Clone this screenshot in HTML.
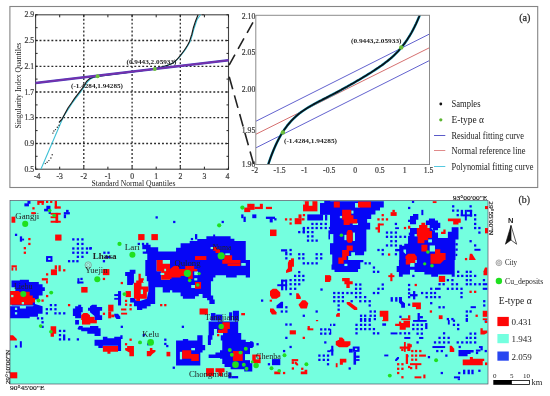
<!DOCTYPE html>
<html><head><meta charset="utf-8"><title>Figure</title>
<style>html,body{margin:0;padding:0;background:#fff;}svg{display:block;}text{font-family:"Liberation Serif", serif;fill:#222;}.t{font-size:7.7px;fill:#3a3a3a;stroke:#3a3a3a;stroke-width:0.2px}.b{font-weight:bold}.s{font-family:"Liberation Sans", sans-serif}</style></head><body>
<svg width="550" height="396" viewBox="0 0 550 396">
<rect width="550" height="396" fill="#fff"/>
<rect x="9.9" y="6.5" width="527.8" height="181" fill="#fff" stroke="#858585" stroke-width="1.1"/>
<g id="leftplot">
<line x1="83.8" y1="14.8" x2="83.8" y2="169.2" stroke="#2a2a2a" stroke-width="1.3" stroke-dasharray="1.9 2.05"/>
<line x1="132.1" y1="14.8" x2="132.1" y2="169.2" stroke="#2a2a2a" stroke-width="1.3" stroke-dasharray="1.9 2.05"/>
<line x1="180.3" y1="14.8" x2="180.3" y2="169.2" stroke="#2a2a2a" stroke-width="1.3" stroke-dasharray="1.9 2.05"/>
<line x1="35.6" y1="143.5" x2="228.5" y2="143.5" stroke="#2a2a2a" stroke-width="1.3" stroke-dasharray="1.9 2.05"/>
<line x1="35.6" y1="117.7" x2="228.5" y2="117.7" stroke="#2a2a2a" stroke-width="1.3" stroke-dasharray="1.9 2.05"/>
<line x1="35.6" y1="92.0" x2="228.5" y2="92.0" stroke="#2a2a2a" stroke-width="1.3" stroke-dasharray="1.9 2.05"/>
<line x1="35.6" y1="66.3" x2="228.5" y2="66.3" stroke="#2a2a2a" stroke-width="1.3" stroke-dasharray="1.9 2.05"/>
<line x1="35.6" y1="40.5" x2="228.5" y2="40.5" stroke="#2a2a2a" stroke-width="1.3" stroke-dasharray="1.9 2.05"/>
<rect x="35.6" y="14.8" width="192.9" height="154.4" fill="none" stroke="#444" stroke-width="1.1"/>
<line x1="35.6" y1="169.2" x2="35.6" y2="166.7" stroke="#222" stroke-width="1"/>
<line x1="35.6" y1="14.8" x2="35.6" y2="17.3" stroke="#222" stroke-width="1"/>
<text class="t" x="37.1" y="178.5" text-anchor="middle">-4</text>
<line x1="59.7" y1="169.2" x2="59.7" y2="166.7" stroke="#222" stroke-width="1"/>
<line x1="59.7" y1="14.8" x2="59.7" y2="17.3" stroke="#222" stroke-width="1"/>
<text class="t" x="59.7" y="178.5" text-anchor="middle">-3</text>
<line x1="83.8" y1="169.2" x2="83.8" y2="166.7" stroke="#222" stroke-width="1"/>
<line x1="83.8" y1="14.8" x2="83.8" y2="17.3" stroke="#222" stroke-width="1"/>
<text class="t" x="83.8" y="178.5" text-anchor="middle">-2</text>
<line x1="107.9" y1="169.2" x2="107.9" y2="166.7" stroke="#222" stroke-width="1"/>
<line x1="107.9" y1="14.8" x2="107.9" y2="17.3" stroke="#222" stroke-width="1"/>
<text class="t" x="107.9" y="178.5" text-anchor="middle">-1</text>
<line x1="132.1" y1="169.2" x2="132.1" y2="166.7" stroke="#222" stroke-width="1"/>
<line x1="132.1" y1="14.8" x2="132.1" y2="17.3" stroke="#222" stroke-width="1"/>
<text class="t" x="132.1" y="178.5" text-anchor="middle">0</text>
<line x1="156.2" y1="169.2" x2="156.2" y2="166.7" stroke="#222" stroke-width="1"/>
<line x1="156.2" y1="14.8" x2="156.2" y2="17.3" stroke="#222" stroke-width="1"/>
<text class="t" x="156.2" y="178.5" text-anchor="middle">1</text>
<line x1="180.3" y1="169.2" x2="180.3" y2="166.7" stroke="#222" stroke-width="1"/>
<line x1="180.3" y1="14.8" x2="180.3" y2="17.3" stroke="#222" stroke-width="1"/>
<text class="t" x="180.3" y="178.5" text-anchor="middle">2</text>
<line x1="204.4" y1="169.2" x2="204.4" y2="166.7" stroke="#222" stroke-width="1"/>
<line x1="204.4" y1="14.8" x2="204.4" y2="17.3" stroke="#222" stroke-width="1"/>
<text class="t" x="204.4" y="178.5" text-anchor="middle">3</text>
<line x1="228.5" y1="169.2" x2="228.5" y2="166.7" stroke="#222" stroke-width="1"/>
<line x1="228.5" y1="14.8" x2="228.5" y2="17.3" stroke="#222" stroke-width="1"/>
<text class="t" x="227.5" y="178.5" text-anchor="middle">4</text>
<line x1="35.6" y1="169.2" x2="37.6" y2="169.2" stroke="#222" stroke-width="1"/>
<line x1="228.5" y1="169.2" x2="226.5" y2="169.2" stroke="#222" stroke-width="1"/>
<line x1="35.6" y1="156.3" x2="37.6" y2="156.3" stroke="#222" stroke-width="1"/>
<line x1="228.5" y1="156.3" x2="226.5" y2="156.3" stroke="#222" stroke-width="1"/>
<line x1="35.6" y1="143.5" x2="37.6" y2="143.5" stroke="#222" stroke-width="1"/>
<line x1="228.5" y1="143.5" x2="226.5" y2="143.5" stroke="#222" stroke-width="1"/>
<line x1="35.6" y1="130.6" x2="37.6" y2="130.6" stroke="#222" stroke-width="1"/>
<line x1="228.5" y1="130.6" x2="226.5" y2="130.6" stroke="#222" stroke-width="1"/>
<line x1="35.6" y1="117.7" x2="37.6" y2="117.7" stroke="#222" stroke-width="1"/>
<line x1="228.5" y1="117.7" x2="226.5" y2="117.7" stroke="#222" stroke-width="1"/>
<line x1="35.6" y1="104.9" x2="37.6" y2="104.9" stroke="#222" stroke-width="1"/>
<line x1="228.5" y1="104.9" x2="226.5" y2="104.9" stroke="#222" stroke-width="1"/>
<line x1="35.6" y1="92.0" x2="37.6" y2="92.0" stroke="#222" stroke-width="1"/>
<line x1="228.5" y1="92.0" x2="226.5" y2="92.0" stroke="#222" stroke-width="1"/>
<line x1="35.6" y1="79.1" x2="37.6" y2="79.1" stroke="#222" stroke-width="1"/>
<line x1="228.5" y1="79.1" x2="226.5" y2="79.1" stroke="#222" stroke-width="1"/>
<line x1="35.6" y1="66.3" x2="37.6" y2="66.3" stroke="#222" stroke-width="1"/>
<line x1="228.5" y1="66.3" x2="226.5" y2="66.3" stroke="#222" stroke-width="1"/>
<line x1="35.6" y1="53.4" x2="37.6" y2="53.4" stroke="#222" stroke-width="1"/>
<line x1="228.5" y1="53.4" x2="226.5" y2="53.4" stroke="#222" stroke-width="1"/>
<line x1="35.6" y1="40.5" x2="37.6" y2="40.5" stroke="#222" stroke-width="1"/>
<line x1="228.5" y1="40.5" x2="226.5" y2="40.5" stroke="#222" stroke-width="1"/>
<line x1="35.6" y1="27.7" x2="37.6" y2="27.7" stroke="#222" stroke-width="1"/>
<line x1="228.5" y1="27.7" x2="226.5" y2="27.7" stroke="#222" stroke-width="1"/>
<line x1="35.6" y1="14.8" x2="37.6" y2="14.8" stroke="#222" stroke-width="1"/>
<line x1="228.5" y1="14.8" x2="226.5" y2="14.8" stroke="#222" stroke-width="1"/>
<text class="t" x="34" y="171.8" text-anchor="end">0.5</text>
<text class="t" x="34" y="146.1" text-anchor="end">0.9</text>
<text class="t" x="34" y="120.3" text-anchor="end">1.3</text>
<text class="t" x="34" y="94.6" text-anchor="end">1.7</text>
<text class="t" x="34" y="68.9" text-anchor="end">2.1</text>
<text class="t" x="34" y="43.1" text-anchor="end">2.5</text>
<text class="t" x="34" y="17.4" text-anchor="end">2.9</text>
<text x="133.5" y="186" text-anchor="middle" font-size="8" textLength="84" lengthAdjust="spacingAndGlyphs" fill="#333">Standard Normal Quantiles</text>
<text transform="translate(20.6,85.6) rotate(-90)" text-anchor="middle" font-size="8" textLength="86" lengthAdjust="spacingAndGlyphs" fill="#333">Singularity Index Quantiles</text>
<path d="M41,169 L63.4,116.7 L72,103.5 C78,95 82,91 86,84 C89,79 93,77 97.6,76.3 L154.8,68.9 C160,68 168,65.5 173.2,63 C177,60.5 183,53 185.7,49.3 C188,45 189.5,43 190.2,41.4 C192,37 193,33 193.6,30 L197,19.8 L200.5,14.8" fill="none" stroke="#3fc1d6" stroke-width="1.1"/>
<path d="M59,122.5 L62,119.2 L65,113.5 L68,108 L71.5,103 C76,95.5 81,91 84.5,85 C87,79 92,76.5 97.6,76.3 L154.8,68.9 C160,67.5 166,66 171,64 C176,62 181,55 184.5,50 C187,46.5 188.5,44 189.5,41.4 C190.5,38.5 191.2,36 191.8,34.5 L193.4,27.7 L195.6,20.9 L198,15" fill="none" stroke="#1a1a1a" stroke-width="1.2"/>
<circle cx="45.3" cy="163.6" r="0.7" fill="#222"/>
<circle cx="47.1" cy="162.3" r="0.7" fill="#222"/>
<circle cx="48.9" cy="160.6" r="0.7" fill="#222"/>
<circle cx="50.9" cy="158.0" r="0.7" fill="#222"/>
<circle cx="52.2" cy="154.7" r="0.7" fill="#222"/>
<circle cx="52.9" cy="133.1" r="0.7" fill="#222"/>
<circle cx="53.9" cy="131.0" r="0.7" fill="#222"/>
<circle cx="55.5" cy="129.6" r="0.7" fill="#222"/>
<circle cx="57.3" cy="127.3" r="0.7" fill="#222"/>
<circle cx="59.0" cy="125.2" r="0.7" fill="#222"/>
<circle cx="203.0" cy="14.8" r="0.7" fill="#222"/>
<line x1="35.6" y1="83" x2="228.5" y2="60.3" stroke="#4a3fc0" stroke-width="2.6"/>
<line x1="35.6" y1="83" x2="228.5" y2="60.3" stroke="#7a2fa8" stroke-width="1.6"/>
<circle cx="97.6" cy="76.3" r="2" fill="#6bbf3a"/>
<circle cx="154.8" cy="68.9" r="2" fill="#6bbf3a"/>
<text class="b" x="71" y="87.6" font-size="7" textLength="52" lengthAdjust="spacingAndGlyphs">(-1.4284,1.94285)</text>
<text class="b" x="126.5" y="64.3" font-size="7" textLength="50" lengthAdjust="spacingAndGlyphs">(0.9443,2.05933)</text>
</g>
<line x1="229.1" y1="65.1" x2="253" y2="22.2" stroke="#222" stroke-width="1.6" stroke-dasharray="12 6.5"/>
<line x1="229.2" y1="76.7" x2="253.6" y2="164" stroke="#222" stroke-width="1.6" stroke-dasharray="13 6.4"/>
<g id="rightplot">
<clipPath id="cp2"><rect x="255.8" y="15.3" width="173.7" height="149.2"/></clipPath>
<g clip-path="url(#cp2)">
<line x1="256" y1="121.2" x2="429.5" y2="34" stroke="#5050c8" stroke-width="0.9"/>
<line x1="256" y1="134.2" x2="429.5" y2="47.7" stroke="#d06060" stroke-width="0.9"/>
<line x1="256" y1="147.8" x2="429.5" y2="60.5" stroke="#5050c8" stroke-width="0.9"/>
<path d="M267.5,166.8 L269.0,162.2 L270.5,157.9 L272.0,153.9 L273.5,150.2 L275.0,146.7 L276.5,143.4 L278.0,140.4 L279.5,137.5 L281.0,134.9 L282.5,132.4 L284.0,130.1 L285.5,128.0 L287.0,125.9 L288.5,124.1 L290.0,122.3 L291.5,120.7 L293.0,119.1 L294.5,117.7 L296.0,116.3 L297.5,115.0 L299.0,113.8 L300.5,112.6 L302.0,111.5 L303.5,110.5 L305.0,109.5 L306.5,108.5 L308.0,107.6 L309.5,106.7 L311.0,105.8 L312.5,105.0 L314.0,104.1 L315.5,103.3 L317.0,102.5 L318.5,101.7 L320.0,100.9 L321.5,100.2 L323.0,99.4 L324.5,98.6 L326.0,97.9 L327.5,97.1 L329.0,96.3 L330.5,95.5 L332.0,94.8 L333.5,94.0 L335.0,93.2 L336.5,92.4 L338.0,91.6 L339.5,90.8 L341.0,90.0 L342.5,89.1 L344.0,88.3 L345.5,87.5 L347.0,86.7 L348.5,85.8 L350.0,85.0 L351.5,84.1 L353.0,83.3 L354.5,82.4 L356.0,81.5 L357.5,80.6 L359.0,79.8 L360.5,78.9 L362.0,78.0 L363.5,77.1 L365.0,76.2 L366.5,75.3 L368.0,74.3 L369.5,73.4 L371.0,72.5 L372.5,71.5 L374.0,70.6 L375.5,69.6 L377.0,68.6 L378.5,67.6 L380.0,66.5 L381.5,65.5 L383.0,64.4 L384.5,63.3 L386.0,62.1 L387.5,61.0 L389.0,59.7 L390.5,58.5 L392.0,57.2 L393.5,55.8 L395.0,54.3 L396.5,52.8 L398.0,51.3 L399.5,49.6 L401.0,47.9 L402.5,46.0 L404.0,44.1 L405.5,42.1 L407.0,39.9 L408.5,37.6 L410.0,35.2 L411.5,32.6 L413.0,29.8 L414.5,26.9 L416.0,23.8 L417.5,20.5 L419.0,17.0 L420.5,13.2" fill="none" stroke="#2ab3cf" stroke-width="2.6" stroke-linejoin="round"/>
<path d="M267.5,166.8 L269.0,162.2 L270.5,157.9 L272.0,153.9 L273.5,150.2 L275.0,146.7 L276.5,143.4 L278.0,140.4 L279.5,137.5 L281.0,134.9 L282.5,132.4 L284.0,130.1 L285.5,128.0 L287.0,125.9 L288.5,124.1 L290.0,122.3 L291.5,120.7 L293.0,119.1 L294.5,117.7 L296.0,116.3 L297.5,115.0 L299.0,113.8 L300.5,112.6 L302.0,111.5 L303.5,110.5 L305.0,109.5 L306.5,108.5 L308.0,107.6 L309.5,106.7 L311.0,105.8 L312.5,105.0 L314.0,104.1 L315.5,103.3 L317.0,102.5 L318.5,101.7 L320.0,100.9 L321.5,100.2 L323.0,99.4 L324.5,98.6 L326.0,97.9 L327.5,97.1 L329.0,96.3 L330.5,95.5 L332.0,94.8 L333.5,94.0 L335.0,93.2 L336.5,92.4 L338.0,91.6 L339.5,90.8 L341.0,90.0 L342.5,89.1 L344.0,88.3 L345.5,87.5 L347.0,86.7 L348.5,85.8 L350.0,85.0 L351.5,84.1 L353.0,83.3 L354.5,82.4 L356.0,81.5 L357.5,80.6 L359.0,79.8 L360.5,78.9 L362.0,78.0 L363.5,77.1 L365.0,76.2 L366.5,75.3 L368.0,74.3 L369.5,73.4 L371.0,72.5 L372.5,71.5 L374.0,70.6 L375.5,69.6 L377.0,68.6 L378.5,67.6 L380.0,66.5 L381.5,65.5 L383.0,64.4 L384.5,63.3 L386.0,62.1 L387.5,61.0 L389.0,59.7 L390.5,58.5 L392.0,57.2 L393.5,55.8 L395.0,54.3 L396.5,52.8 L398.0,51.3 L399.5,49.6 L401.0,47.9 L402.5,46.0 L404.0,44.1 L405.5,42.1 L407.0,39.9 L408.5,37.6 L410.0,35.2 L411.5,32.6 L413.0,29.8 L414.5,26.9 L416.0,23.8 L417.5,20.5 L419.0,17.0 L420.5,13.2" fill="none" stroke="#0a1118" stroke-width="1.8" stroke-linejoin="round"/>
</g>
<rect x="255.8" y="15.3" width="173.7" height="149.2" fill="none" stroke="#8c8c8c" stroke-width="1"/>
<circle cx="282.9" cy="132.4" r="2.2" fill="#6bbf3a"/>
<circle cx="401.2" cy="47.4" r="2.2" fill="#6bbf3a"/>
<text class="b" x="351" y="42.6" font-size="7" textLength="50.5" lengthAdjust="spacingAndGlyphs">(0.9443,2.05933)</text>
<text class="b" x="284" y="143" font-size="7" textLength="53" lengthAdjust="spacingAndGlyphs">(-1.4284,1.94285)</text>
<text class="t" x="254.8" y="173" text-anchor="middle">-2</text>
<text class="t" x="279.6" y="173" text-anchor="middle">-1.5</text>
<text class="t" x="304.4" y="173" text-anchor="middle">-1</text>
<text class="t" x="329.2" y="173" text-anchor="middle">-0.5</text>
<text class="t" x="355.1" y="173" text-anchor="middle">0</text>
<text class="t" x="379.9" y="173" text-anchor="middle">0.5</text>
<text class="t" x="404.7" y="173" text-anchor="middle">1</text>
<text class="t" x="428.5" y="173" text-anchor="middle">1.5</text>
<text class="t" x="255.3" y="166.9" text-anchor="end">1.90</text>
<text class="t" x="255.3" y="133.1" text-anchor="end">1.95</text>
<text class="t" x="255.3" y="92.2" text-anchor="end">2.00</text>
<text class="t" x="255.3" y="55.1" text-anchor="end">2.05</text>
<text class="t" x="255.3" y="18.9" text-anchor="end">2.10</text>
</g>
<text x="519.2" y="21.2" font-size="10.2" fill="#333" stroke="#333" stroke-width="0.25">(a)</text>
<circle cx="440.8" cy="104" r="1.4" fill="#111"/>
<circle cx="440.8" cy="119.8" r="1.6" fill="#5cb531"/>
<line x1="434" y1="135.5" x2="445.3" y2="135.5" stroke="#5a5ac8" stroke-width="1"/>
<line x1="434" y1="150.5" x2="445.3" y2="150.5" stroke="#e08a8a" stroke-width="1"/>
<line x1="434" y1="166.5" x2="445.3" y2="166.5" stroke="#55c8e0" stroke-width="1"/>
<text x="451.5" y="107.0" font-size="9.3" textLength="29.0" lengthAdjust="spacingAndGlyphs" fill="#333">Samples</text>
<text x="451.5" y="123.0" font-size="9.3" textLength="32.5" lengthAdjust="spacingAndGlyphs" fill="#333">E-type α</text>
<text x="451.5" y="138.6" font-size="9.3" textLength="72.5" lengthAdjust="spacingAndGlyphs" fill="#333">Residual fitting curve</text>
<text x="451.5" y="154.0" font-size="9.3" textLength="74.0" lengthAdjust="spacingAndGlyphs" fill="#333">Normal reference line</text>
<text x="451.5" y="169.5" font-size="9.3" textLength="82.0" lengthAdjust="spacingAndGlyphs" fill="#333">Polynomial fitting curve</text>
<g id="map">
<clipPath id="cpm"><rect x="10.0" y="200.5" width="478.0" height="183.5"/></clipPath>
<rect x="10.0" y="200.5" width="478.0" height="183.5" fill="#74ffdf"/>
<g clip-path="url(#cpm)" shape-rendering="auto">
<g transform="translate(10,200) scale(0.15152)">
<rect x="115" y="5" width="20" height="20" fill="#0606f6"/>
<rect x="95" y="22" width="30" height="20" fill="#0606f6"/>
<rect x="240" y="38" width="27" height="22" fill="#0606f6"/>
<rect x="225" y="58" width="27" height="17" fill="#0606f6"/>
<rect x="255" y="75" width="15" height="17" fill="#0606f6"/>
<rect x="370" y="65" width="17" height="17" fill="#0606f6"/>
<rect x="355" y="80" width="40" height="15" fill="#0606f6"/>
<rect x="355" y="95" width="15" height="25" fill="#0606f6"/>
<rect x="32.5" y="222.5" width="15" height="15" fill="#0606f6"/>
<rect x="65" y="240" width="15" height="35" fill="#0606f6"/>
<rect x="80" y="255" width="13" height="12" fill="#0606f6"/>
<rect x="410.5" y="252.5" width="15" height="15" fill="#0606f6"/>
<rect x="440.5" y="252.5" width="15" height="15" fill="#0606f6"/>
<rect x="470.5" y="252.5" width="15" height="15" fill="#0606f6"/>
<rect x="440.5" y="282.5" width="15" height="15" fill="#0606f6"/>
<rect x="470.5" y="282.5" width="15" height="15" fill="#0606f6"/>
<rect x="410.5" y="312.5" width="15" height="15" fill="#0606f6"/>
<rect x="440.5" y="312.5" width="15" height="15" fill="#0606f6"/>
<rect x="470.5" y="312.5" width="15" height="15" fill="#0606f6"/>
<rect x="500.5" y="312.5" width="15" height="15" fill="#0606f6"/>
<rect x="522.5" y="312.5" width="15" height="15" fill="#0606f6"/>
<rect x="410.5" y="340.5" width="15" height="15" fill="#0606f6"/>
<rect x="440.5" y="340.5" width="15" height="15" fill="#0606f6"/>
<rect x="470.5" y="340.5" width="15" height="15" fill="#0606f6"/>
<rect x="500.5" y="340.5" width="15" height="15" fill="#0606f6"/>
<rect x="440.5" y="367.5" width="15" height="15" fill="#0606f6"/>
<rect x="470.5" y="367.5" width="15" height="15" fill="#0606f6"/>
<rect x="238" y="370" width="42" height="30" fill="#0606f6"/>
<rect x="252" y="383" width="15" height="20" fill="#74ffdf"/>
<rect x="180" y="5" width="45" height="15" fill="#fe0606"/>
<rect x="180" y="20" width="15" height="12" fill="#fe0606"/>
<rect x="208" y="20" width="15" height="12" fill="#fe0606"/>
<rect x="237.5" y="4.5" width="15" height="15" fill="#fe0606"/>
<rect x="264.5" y="4.5" width="15" height="15" fill="#fe0606"/>
<rect x="295" y="5" width="15" height="50" fill="#fe0606"/>
<rect x="295" y="42" width="40" height="15" fill="#fe0606"/>
<rect x="147.5" y="47.5" width="15" height="15" fill="#fe0606"/>
<rect x="140" y="80" width="30" height="14" fill="#fe0606"/>
<rect x="268" y="85" width="67" height="12" fill="#fe0606"/>
<rect x="300" y="85" width="18" height="65" fill="#fe0606"/>
<rect x="268" y="108" width="35" height="12" fill="#fe0606"/>
<rect x="268" y="137" width="67" height="13" fill="#fe0606"/>
<rect x="10" y="110" width="25" height="40" fill="#fe0606"/>
<rect x="298" y="228" width="42" height="40" fill="#fe0606"/>
<rect x="120.5" y="250.5" width="15" height="15" fill="#fe0606"/>
<rect x="120.5" y="282.5" width="15" height="15" fill="#fe0606"/>
<rect x="90.5" y="310.5" width="15" height="15" fill="#fe0606"/>
<rect x="90.5" y="340.5" width="15" height="15" fill="#fe0606"/>
</g>
<g transform="translate(90,200) scale(0.15152)">
<rect x="432.5" y="107.5" width="15" height="15" fill="#0606f6"/>
<rect x="318" y="225" width="42" height="40" fill="#fe0606"/>
<rect x="405" y="225" width="43" height="40" fill="#fe0606"/>
<rect x="-2.5" y="310.5" width="15" height="15" fill="#0606f6"/>
<rect x="87.5" y="340.5" width="15" height="15" fill="#0606f6"/>
<rect x="114.5" y="340.5" width="15" height="15" fill="#0606f6"/>
<rect x="100" y="370" width="35" height="14" fill="#0606f6"/>
<rect x="314.5" y="282.5" width="15" height="15" fill="#0606f6"/>
<rect x="342.5" y="282.5" width="15" height="15" fill="#0606f6"/>
<rect x="370.5" y="282.5" width="15" height="15" fill="#0606f6"/>
<polygon points="345,295 400,295 400,312 450,312 450,340 528,340 528,396 378,396 378,355 348,355 348,340 370,340 370,325 345,325" fill="#0606f6"/>
</g>
<g transform="translate(170,200) scale(0.15152)">
<rect x="20.5" y="137.5" width="15" height="15" fill="#0606f6"/>
<rect x="340.5" y="137.5" width="15" height="15" fill="#0606f6"/>
<rect x="137.5" y="250.5" width="15" height="15" fill="#0606f6"/>
<rect x="165" y="225" width="15" height="35" fill="#0606f6"/>
<polygon points="0,340 40,340 40,315 70,315 70,285 130,285 130,270 180,270 180,258 240,258 240,240 285,240 285,228 298,228 298,240 400,240 400,255 425,255 425,270 500,270 500,396 0,396" fill="#0606f6"/>
<rect x="268" y="310" width="16" height="14" fill="#74ffdf"/>
<polygon points="285,310 310,310 310,325 330,325 330,350 300,350 300,335 285,335" fill="#fe0606"/>
<rect x="165" y="370" width="75" height="30" fill="#fe0606"/>
<rect x="355" y="365" width="55" height="31" fill="#fe0606"/>
<rect x="365" y="352" width="30" height="12" fill="#74ffdf"/>
<rect x="490" y="50" width="40" height="30" fill="#fe0606"/>
<rect x="510" y="25" width="20" height="27" fill="#fe0606"/>
<rect x="470" y="95" width="15" height="25" fill="#0606f6"/>
<rect x="485" y="110" width="15" height="35" fill="#0606f6"/>
</g>
<g transform="translate(250,200) scale(0.15152)">
<rect x="0" y="25" width="30" height="40" fill="#fe0606"/>
<rect x="30" y="45" width="55" height="15" fill="#fe0606"/>
<rect x="65" y="25" width="20" height="22" fill="#fe0606"/>
<rect x="105" y="45" width="40" height="15" fill="#fe0606"/>
<rect x="350" y="8" width="95" height="67" fill="#fe0606"/>
<rect x="388" y="8" width="24" height="30" fill="#74ffdf"/>
<rect x="350" y="8" width="12" height="22" fill="#74ffdf"/>
<rect x="295" y="120" width="45" height="40" fill="#fe0606"/>
<rect x="320" y="95" width="20" height="25" fill="#fe0606"/>
<rect x="340" y="120" width="20" height="15" fill="#fe0606"/>
<rect x="348.5" y="92.5" width="15" height="15" fill="#fe0606"/>
<rect x="230.5" y="120.5" width="15" height="15" fill="#fe0606"/>
<rect x="260.5" y="120.5" width="15" height="15" fill="#fe0606"/>
<rect x="260.5" y="147.5" width="15" height="15" fill="#fe0606"/>
<rect x="132" y="195" width="43" height="43" fill="#fe0606"/>
<rect x="270" y="385" width="20" height="12" fill="#fe0606"/>
<rect x="15" y="95" width="27" height="25" fill="#0606f6"/>
<rect x="105" y="110" width="60" height="15" fill="#0606f6"/>
<rect x="130" y="125" width="20" height="23" fill="#0606f6"/>
<rect x="160" y="120" width="15" height="15" fill="#0606f6"/>
<rect x="462" y="20" width="70" height="78" fill="#0606f6"/>
<rect x="490" y="5" width="40" height="20" fill="#0606f6"/>
<rect x="378" y="95" width="104" height="40" fill="#0606f6"/>
<rect x="495" y="98" width="15" height="37" fill="#0606f6"/>
<rect x="404.5" y="150.5" width="15" height="15" fill="#0606f6"/>
<rect x="432.5" y="150.5" width="15" height="15" fill="#0606f6"/>
<rect x="462.5" y="150.5" width="15" height="15" fill="#0606f6"/>
<rect x="492.5" y="150.5" width="15" height="15" fill="#0606f6"/>
<rect x="347.5" y="177.5" width="15" height="15" fill="#0606f6"/>
<rect x="375.5" y="177.5" width="15" height="15" fill="#0606f6"/>
<rect x="404.5" y="177.5" width="15" height="15" fill="#0606f6"/>
<rect x="432.5" y="177.5" width="15" height="15" fill="#0606f6"/>
<rect x="462.5" y="177.5" width="15" height="15" fill="#0606f6"/>
<rect x="492.5" y="177.5" width="15" height="15" fill="#0606f6"/>
<rect x="520.5" y="177.5" width="15" height="15" fill="#0606f6"/>
<rect x="317.5" y="204.5" width="15" height="15" fill="#0606f6"/>
<rect x="347.5" y="204.5" width="15" height="15" fill="#0606f6"/>
<rect x="375.5" y="204.5" width="15" height="15" fill="#0606f6"/>
<rect x="404.5" y="204.5" width="15" height="15" fill="#0606f6"/>
<rect x="520.5" y="204.5" width="15" height="15" fill="#0606f6"/>
<rect x="375.5" y="232.5" width="15" height="15" fill="#0606f6"/>
<rect x="404.5" y="232.5" width="15" height="15" fill="#0606f6"/>
<rect x="520.5" y="232.5" width="15" height="15" fill="#0606f6"/>
<rect x="375.5" y="260.5" width="15" height="15" fill="#0606f6"/>
<rect x="404.5" y="260.5" width="15" height="15" fill="#0606f6"/>
<rect x="432.5" y="260.5" width="15" height="15" fill="#0606f6"/>
<rect x="348" y="185" width="14" height="35" fill="#0606f6"/>
<rect x="518" y="200" width="12" height="60" fill="#0606f6"/>
<rect x="205" y="325" width="40" height="15" fill="#0606f6"/>
<rect x="232" y="340" width="15" height="25" fill="#0606f6"/>
<rect x="260.5" y="322.5" width="15" height="15" fill="#0606f6"/>
<rect x="260.5" y="350.5" width="15" height="15" fill="#0606f6"/>
<rect x="317.5" y="350.5" width="15" height="15" fill="#0606f6"/>
<rect x="344.5" y="350.5" width="15" height="15" fill="#0606f6"/>
<rect x="432.5" y="350.5" width="15" height="15" fill="#0606f6"/>
<rect x="462.5" y="350.5" width="15" height="15" fill="#0606f6"/>
<rect x="232.5" y="377.5" width="15" height="15" fill="#0606f6"/>
<rect x="317.5" y="377.5" width="15" height="15" fill="#0606f6"/>
<rect x="344.5" y="377.5" width="15" height="15" fill="#0606f6"/>
<rect x="432.5" y="377.5" width="15" height="15" fill="#0606f6"/>
<rect x="462.5" y="377.5" width="15" height="15" fill="#0606f6"/>
</g>
<g transform="translate(330,200) scale(0.15152)">
<polygon points="0,8 355,8 355,50 330,50 330,70 300,70 300,95 272,95 272,125 245,125 245,150 265,150 265,195 240,195 240,340 225,340 225,365 165,365 165,345 140,345 140,370 120,370 120,396 15,396 15,360 0,360" fill="#0606f6"/>
<rect x="0" y="225" width="22" height="60" fill="#74ffdf"/>
<rect x="65" y="105" width="15" height="15" fill="#74ffdf"/>
<rect x="165" y="20" width="30" height="30" fill="#74ffdf"/>
<rect x="140" y="70" width="15" height="20" fill="#74ffdf"/>
<rect x="150" y="152" width="35" height="13" fill="#74ffdf"/>
<rect x="95" y="230" width="15" height="35" fill="#74ffdf"/>
<rect x="150" y="215" width="15" height="55" fill="#74ffdf"/>
<rect x="25" y="10" width="40" height="40" fill="#fe0606"/>
<rect x="185" y="10" width="85" height="40" fill="#fe0606"/>
<polygon points="80,65 140,65 140,100 155,100 155,125 180,125 180,155 130,155 130,165 90,165 90,130 80,130" fill="#fe0606"/>
<polygon points="118,198 142,198 150,215 150,265 142,282 118,282 110,265 110,215" fill="#fe0606"/>
<polygon points="110,300 150,300 150,335 125,335 125,370 110,370 110,396 55,396 55,380 80,380 80,330 110,330" fill="#fe0606"/>
<rect x="400" y="80" width="40" height="25" fill="#fe0606"/>
<rect x="412" y="65" width="16" height="15" fill="#fe0606"/>
<rect x="340.5" y="92.5" width="15" height="15" fill="#fe0606"/>
<rect x="312.5" y="120.5" width="15" height="15" fill="#fe0606"/>
<rect x="340.5" y="120.5" width="15" height="15" fill="#fe0606"/>
<rect x="368.5" y="120.5" width="15" height="15" fill="#fe0606"/>
<rect x="320" y="155" width="35" height="13" fill="#fe0606"/>
<rect x="315" y="155" width="15" height="60" fill="#fe0606"/>
<rect x="300" y="180" width="30" height="15" fill="#fe0606"/>
<rect x="487.5" y="177.5" width="15" height="15" fill="#fe0606"/>
<rect x="515" y="170" width="15" height="20" fill="#fe0606"/>
<rect x="382.5" y="352.5" width="15" height="15" fill="#fe0606"/>
<rect x="427.5" y="150.5" width="15" height="15" fill="#0606f6"/>
<rect x="430" y="180" width="25" height="12" fill="#0606f6"/>
<rect x="368.5" y="207.5" width="15" height="15" fill="#0606f6"/>
<rect x="397.5" y="207.5" width="15" height="15" fill="#0606f6"/>
<rect x="427.5" y="207.5" width="15" height="15" fill="#0606f6"/>
<rect x="368.5" y="235.5" width="15" height="15" fill="#0606f6"/>
<rect x="397.5" y="235.5" width="15" height="15" fill="#0606f6"/>
<rect x="427.5" y="235.5" width="15" height="15" fill="#0606f6"/>
<rect x="457.5" y="235.5" width="15" height="15" fill="#0606f6"/>
<rect x="487.5" y="235.5" width="15" height="15" fill="#0606f6"/>
<rect x="397.5" y="264.5" width="15" height="15" fill="#0606f6"/>
<rect x="427.5" y="264.5" width="15" height="15" fill="#0606f6"/>
<rect x="368.5" y="292.5" width="15" height="15" fill="#0606f6"/>
<rect x="397.5" y="292.5" width="15" height="15" fill="#0606f6"/>
<rect x="427.5" y="292.5" width="15" height="15" fill="#0606f6"/>
<rect x="312.5" y="322.5" width="15" height="15" fill="#0606f6"/>
<rect x="340.5" y="322.5" width="15" height="15" fill="#0606f6"/>
<rect x="432.5" y="322.5" width="15" height="15" fill="#0606f6"/>
<rect x="340.5" y="350.5" width="15" height="15" fill="#0606f6"/>
<rect x="427.5" y="350.5" width="15" height="15" fill="#0606f6"/>
<rect x="515" y="45" width="15" height="15" fill="#0606f6"/>
<rect x="515" y="130" width="15" height="15" fill="#0606f6"/>
<rect x="520" y="215" width="10" height="20" fill="#0606f6"/>
<polygon points="515,238 515,288 490,288 490,302 475,302 475,295 457,295 457,323 430,323 430,338 457,338 457,396 528,396 528,238" fill="#0606f6"/>
<polygon points="485,327 502,327 502,358 485,343" fill="#74ffdf"/>
<polygon points="515,355 528,355 528,396 505,396 498,385 498,372" fill="#fe0606"/>
</g>
<g transform="translate(410,200) scale(0.15152)">
<rect x="12.5" y="4.5" width="15" height="15" fill="#0606f6"/>
<rect x="75" y="65" width="13" height="35" fill="#0606f6"/>
<polygon points="0,105 20,105 20,92 55,92 55,130 40,130 40,160 0,160" fill="#0606f6"/>
<polygon points="105,135 125,135 125,122 165,122 165,135 185,135 185,150 200,150 200,185 185,185 185,200 150,200 150,185 130,185 130,165 105,165" fill="#0606f6"/>
<polygon points="0,185 140,185 150,200 165,200 165,215 185,215 185,250 250,250 250,210 275,210 275,180 320,180 320,260 300,260 300,396 0,396" fill="#0606f6"/>
<rect x="30" y="225" width="20" height="15" fill="#74ffdf"/>
<rect x="120" y="260" width="25" height="20" fill="#74ffdf"/>
<rect x="130" y="300" width="35" height="40" fill="#74ffdf"/>
<rect x="300" y="285" width="15" height="15" fill="#0606f6"/>
<rect x="300" y="320" width="15" height="15" fill="#0606f6"/>
<rect x="300" y="355" width="12" height="15" fill="#0606f6"/>
<polygon points="75,150 100,150 100,165 115,165 115,185 130,185 130,205 145,205 145,250 120,250 120,265 95,265 95,285 50,285 50,240 45,240 45,185 60,185 60,165 75,165" fill="#fe0606"/>
<rect x="75" y="295" width="40" height="45" fill="#fe0606"/>
<polygon points="165,325 200,325 200,350 235,350 235,396 135,396 135,355 165,355" fill="#fe0606"/>
<polygon points="0,355 30,355 45,375 45,396 0,396" fill="#fe0606"/>
<polygon points="220,195 235,195 235,225 205,225 205,210 220,210" fill="#fe0606"/>
<polygon points="250,122 335,122 335,150 320,150 320,162 285,162 285,140 250,140" fill="#fe0606"/>
<rect x="150" y="8" width="25" height="12" fill="#fe0606"/>
<rect x="495" y="40" width="20" height="20" fill="#fe0606"/>
<rect x="495" y="185" width="20" height="35" fill="#fe0606"/>
<polygon points="395,355 410,355 435,396 390,396" fill="#fe0606"/>
<rect x="362.5" y="382.5" width="15" height="15" fill="#fe0606"/>
<rect x="277.5" y="34.5" width="15" height="15" fill="#0606f6"/>
<rect x="392.5" y="34.5" width="15" height="15" fill="#0606f6"/>
<rect x="277.5" y="62.5" width="15" height="15" fill="#0606f6"/>
<rect x="307.5" y="62.5" width="15" height="15" fill="#0606f6"/>
<rect x="307.5" y="92.5" width="15" height="15" fill="#0606f6"/>
<rect x="335" y="65" width="15" height="40" fill="#0606f6"/>
<rect x="335" y="95" width="40" height="13" fill="#0606f6"/>
<rect x="362" y="65" width="13" height="70" fill="#0606f6"/>
<rect x="375" y="65" width="35" height="13" fill="#0606f6"/>
<rect x="395" y="65" width="15" height="45" fill="#0606f6"/>
<rect x="375" y="95" width="35" height="13" fill="#0606f6"/>
<rect x="422.5" y="92.5" width="15" height="15" fill="#0606f6"/>
<rect x="422.5" y="120.5" width="15" height="15" fill="#0606f6"/>
<rect x="422.5" y="150.5" width="15" height="15" fill="#0606f6"/>
<rect x="422.5" y="177.5" width="15" height="15" fill="#0606f6"/>
<rect x="450.5" y="177.5" width="15" height="15" fill="#0606f6"/>
<rect x="450.5" y="207.5" width="15" height="15" fill="#0606f6"/>
<rect x="332.5" y="177.5" width="15" height="15" fill="#0606f6"/>
<rect x="392.5" y="264.5" width="15" height="15" fill="#0606f6"/>
<rect x="422.5" y="292.5" width="15" height="15" fill="#0606f6"/>
<rect x="425" y="322" width="40" height="13" fill="#0606f6"/>
</g>
<g transform="translate(10,260) scale(0.15152)">
<rect x="238" y="0" width="42" height="12" fill="#0606f6"/>
<rect x="382.5" y="0.5" width="15" height="15" fill="#0606f6"/>
<rect x="410.5" y="0.5" width="15" height="15" fill="#0606f6"/>
<rect x="437.5" y="0.5" width="15" height="15" fill="#0606f6"/>
<polygon points="10,135 65,135 65,130 125,130 125,145 190,145 190,160 215,160 215,180 230,180 230,205 215,205 215,235 190,235 190,260 165,260 165,300 10,300" fill="#0606f6"/>
<rect x="0" y="180" width="35" height="25" fill="#74ffdf"/>
<polygon points="0,305 65,305 65,320 105,320 105,305 150,305 165,290 215,305 215,355 185,355 185,375 130,375 130,385 0,385" fill="#0606f6"/>
<rect x="32.5" y="314.5" width="15" height="15" fill="#74ffdf"/>
<rect x="32.5" y="344.5" width="15" height="15" fill="#74ffdf"/>
<rect x="177.5" y="377.5" width="15" height="15" fill="#0606f6"/>
<rect x="204.5" y="377.5" width="15" height="15" fill="#0606f6"/>
<rect x="445" y="120" width="13" height="35" fill="#0606f6"/>
<rect x="445" y="142" width="40" height="13" fill="#0606f6"/>
<rect x="464.5" y="117.5" width="15" height="15" fill="#0606f6"/>
<rect x="262.5" y="290.5" width="15" height="15" fill="#0606f6"/>
<rect x="292.5" y="290.5" width="15" height="15" fill="#0606f6"/>
<rect x="235.5" y="317.5" width="15" height="15" fill="#0606f6"/>
<rect x="262.5" y="317.5" width="15" height="15" fill="#0606f6"/>
<rect x="292.5" y="317.5" width="15" height="15" fill="#0606f6"/>
<rect x="235.5" y="344.5" width="15" height="15" fill="#0606f6"/>
<rect x="292.5" y="344.5" width="15" height="15" fill="#0606f6"/>
<rect x="320.5" y="344.5" width="15" height="15" fill="#0606f6"/>
<rect x="350.5" y="344.5" width="15" height="15" fill="#0606f6"/>
<polygon points="430,305 450,305 450,295 470,295 470,310 480,310 480,345 470,345 470,385 430,385 430,370 415,370 415,320 430,320" fill="#0606f6"/>
<rect x="515" y="315" width="15" height="20" fill="#0606f6"/>
<rect x="10" y="35" width="35" height="13" fill="#fe0606"/>
<rect x="10" y="48" width="12" height="22" fill="#fe0606"/>
<rect x="35" y="48" width="10" height="22" fill="#fe0606"/>
<rect x="270" y="62" width="40" height="38" fill="#fe0606"/>
<rect x="295" y="35" width="15" height="27" fill="#fe0606"/>
<rect x="320" y="35" width="15" height="40" fill="#fe0606"/>
<rect x="350.5" y="60.5" width="15" height="15" fill="#fe0606"/>
<rect x="237.5" y="87.5" width="15" height="15" fill="#fe0606"/>
<rect x="210" y="120" width="40" height="15" fill="#fe0606"/>
<rect x="238" y="135" width="12" height="20" fill="#fe0606"/>
<rect x="470" y="178" width="42" height="37" fill="#fe0606"/>
<rect x="237.5" y="230.5" width="15" height="15" fill="#fe0606"/>
<rect x="207.5" y="260.5" width="15" height="15" fill="#fe0606"/>
<rect x="382.5" y="290.5" width="15" height="15" fill="#fe0606"/>
<polygon points="0,205 60,205 60,210 130,210 130,235 150,235 150,250 165,250 165,280 150,280 150,295 0,295" fill="#fe0606"/>
<rect x="7.5" y="230.5" width="15" height="15" fill="#74ffdf"/>
<rect x="77.5" y="277.5" width="15" height="15" fill="#74ffdf"/>
<polygon points="485,350 510,350 528,365 528,396 470,396 470,365" fill="#fe0606"/>
</g>
<g transform="translate(90,260) scale(0.15152)">
<rect x="84.5" y="0.5" width="15" height="15" fill="#0606f6"/>
<polygon points="262,65 300,65 300,90 290,90 290,150 280,165 245,165 245,105 232,105 232,80 262,80" fill="#0606f6"/>
<polygon points="265,250 300,250 300,265 330,270 375,255 385,210 385,140 375,140 375,105 365,105 365,0 440,0 440,75 470,75 470,130 528,130 528,215 480,215 480,180 430,180 430,290 400,290 400,305 375,305 375,320 345,320 345,330 310,330 310,305 290,305 290,280 265,280" fill="#0606f6"/>
<rect x="185" y="205" width="20" height="95" fill="#0606f6"/>
<rect x="160" y="225" width="35" height="13" fill="#0606f6"/>
<rect x="160" y="250" width="35" height="12" fill="#0606f6"/>
<polygon points="15,295 45,295 45,310 80,310 80,335 65,335 65,365 80,365 80,396 30,396 30,370 0,345 0,305" fill="#0606f6"/>
<polygon points="160,355 185,355 200,375 200,390 175,390 160,370" fill="#0606f6"/>
<rect x="85" y="60" width="43" height="40" fill="#fe0606"/>
<rect x="84.5" y="117.5" width="15" height="15" fill="#fe0606"/>
<rect x="202.5" y="144.5" width="15" height="15" fill="#fe0606"/>
<polygon points="320,90 335,90 335,120 355,120 355,150 340,150 340,175 385,175 385,210 375,210 375,255 330,255 330,270 305,270 305,255 290,255 290,150 305,150 305,135 320,135" fill="#fe0606"/>
<rect x="335" y="195" width="15" height="30" fill="#74ffdf"/>
<rect x="350" y="135" width="12" height="12" fill="#74ffdf"/>
<rect x="235" y="205" width="35" height="40" fill="#fe0606"/>
<polygon points="440,0 480,0 480,25 528,25 528,130 470,130 470,75 440,75" fill="#fe0606"/>
<rect x="465" y="85" width="25" height="14" fill="#74ffdf"/>
<rect x="490" y="58" width="12" height="16" fill="#74ffdf"/>
<rect x="462.5" y="290.5" width="15" height="15" fill="#fe0606"/>
<rect x="489.5" y="290.5" width="15" height="15" fill="#fe0606"/>
<rect x="120" y="295" width="35" height="45" fill="#fe0606"/>
<rect x="120" y="340" width="20" height="45" fill="#fe0606"/>
<rect x="140" y="360" width="20" height="18" fill="#fe0606"/>
<rect x="84.5" y="347.5" width="15" height="15" fill="#fe0606"/>
<rect x="205" y="320" width="35" height="13" fill="#fe0606"/>
<rect x="205" y="348" width="40" height="12" fill="#fe0606"/>
<rect x="230.5" y="262.5" width="15" height="15" fill="#fe0606"/>
<rect x="230.5" y="287.5" width="15" height="15" fill="#fe0606"/>
<rect x="260.5" y="290.5" width="15" height="15" fill="#fe0606"/>
<rect x="260.5" y="317.5" width="15" height="15" fill="#fe0606"/>
<rect x="0" y="375" width="30" height="21" fill="#fe0606"/>
</g>
<g transform="translate(170,260) scale(0.15152)">
<polygon points="0,0 528,0 528,115 500,115 500,100 440,100 440,115 370,115 370,100 300,100 300,115 285,115 285,140 270,140 270,235 285,235 285,260 295,260 295,290 260,290 260,265 245,265 245,250 215,250 215,225 190,225 190,240 165,240 165,255 85,255 85,240 70,240 70,215 15,215 15,200 0,200" fill="#0606f6"/>
<rect x="140" y="165" width="25" height="20" fill="#74ffdf"/>
<rect x="160" y="120" width="20" height="15" fill="#74ffdf"/>
<rect x="25" y="62" width="15" height="18" fill="#74ffdf"/>
<rect x="160" y="75" width="25" height="25" fill="#74ffdf"/>
<rect x="470" y="20" width="30" height="18" fill="#74ffdf"/>
<polygon points="0,60 25,40 60,40 60,60 100,60 100,40 160,40 160,60 180,60 180,75 150,75 150,125 120,125 120,105 70,105 70,115 10,115 10,125 0,125" fill="#fe0606"/>
<rect x="345" y="0" width="120" height="25" fill="#fe0606"/>
<rect x="380" y="25" width="85" height="15" fill="#fe0606"/>
<rect x="165" y="145" width="40" height="45" fill="#fe0606"/>
<rect x="195" y="320" width="55" height="40" fill="#fe0606"/>
<rect x="470" y="350" width="25" height="15" fill="#fe0606"/>
<rect x="270" y="350" width="30" height="50" fill="#0606f6"/>
<rect x="300" y="360" width="45" height="40" fill="#0606f6"/>
<rect x="390" y="345" width="20" height="55" fill="#0606f6"/>
<rect x="415" y="335" width="40" height="65" fill="#0606f6"/>
</g>
<g transform="translate(250,260) scale(0.15152)">
<polygon points="258,0 290,0 290,45 278,45 278,75 238,85 238,70 250,55 250,20" fill="#fe0606"/>
<rect x="495" y="100" width="35" height="45" fill="#fe0606"/>
<polygon points="150,190 175,190 200,215 200,240 175,255 145,255 132,235 132,205" fill="#fe0606"/>
<rect x="130" y="262" width="15" height="13" fill="#fe0606"/>
<polygon points="305,220 320,220 335,245 335,258 305,258" fill="#fe0606"/>
<polygon points="345,265 365,265 385,285 375,320 335,320 320,295" fill="#fe0606"/>
<polygon points="132,320 155,320 175,345 175,360 145,360 132,340" fill="#fe0606"/>
<rect x="205" y="130" width="15" height="70" fill="#0606f6"/>
<rect x="232" y="130" width="13" height="70" fill="#0606f6"/>
<rect x="205" y="130" width="40" height="13" fill="#0606f6"/>
<rect x="180" y="160" width="65" height="13" fill="#0606f6"/>
<rect x="347.5" y="14.5" width="15" height="15" fill="#0606f6"/>
<rect x="375.5" y="14.5" width="15" height="15" fill="#0606f6"/>
<rect x="404.5" y="14.5" width="15" height="15" fill="#0606f6"/>
<rect x="432.5" y="14.5" width="15" height="15" fill="#0606f6"/>
<rect x="317.5" y="72.5" width="15" height="15" fill="#0606f6"/>
<rect x="290.5" y="97.5" width="15" height="15" fill="#0606f6"/>
<rect x="317.5" y="97.5" width="15" height="15" fill="#0606f6"/>
<rect x="344.5" y="97.5" width="15" height="15" fill="#0606f6"/>
<rect x="260.5" y="125.5" width="15" height="15" fill="#0606f6"/>
<rect x="290.5" y="125.5" width="15" height="15" fill="#0606f6"/>
<rect x="317.5" y="125.5" width="15" height="15" fill="#0606f6"/>
<rect x="344.5" y="125.5" width="15" height="15" fill="#0606f6"/>
<rect x="260.5" y="152.5" width="15" height="15" fill="#0606f6"/>
<rect x="290.5" y="152.5" width="15" height="15" fill="#0606f6"/>
<rect x="317.5" y="152.5" width="15" height="15" fill="#0606f6"/>
<rect x="260.5" y="182.5" width="15" height="15" fill="#0606f6"/>
<rect x="290.5" y="182.5" width="15" height="15" fill="#0606f6"/>
<rect x="260.5" y="217.5" width="15" height="15" fill="#0606f6"/>
<rect x="464.5" y="187.5" width="15" height="15" fill="#0606f6"/>
<rect x="72.5" y="260.5" width="15" height="15" fill="#0606f6"/>
<polygon points="205,275 218,275 218,318 175,318 175,300" fill="#0606f6"/>
<rect x="232.5" y="304.5" width="15" height="15" fill="#0606f6"/>
<rect x="202.5" y="332.5" width="15" height="15" fill="#0606f6"/>
<rect x="232.5" y="332.5" width="15" height="15" fill="#0606f6"/>
<rect x="432.5" y="332.5" width="15" height="15" fill="#0606f6"/>
<rect x="347.5" y="360.5" width="15" height="15" fill="#0606f6"/>
</g>
<g transform="translate(330,260) scale(0.15152)">
<polygon points="15,0 220,0 220,15 200,15 200,60 185,60 185,80 30,80 30,65 10,65 10,30 15,30" fill="#0606f6"/>
<rect x="95" y="25" width="20" height="15" fill="#74ffdf"/>
<rect x="55" y="0" width="35" height="25" fill="#fe0606"/>
<polygon points="455,0 528,0 528,95 480,95 480,110 455,110 455,80 440,80 440,40 455,40" fill="#0606f6"/>
<rect x="500" y="0" width="30" height="30" fill="#fe0606"/>
<rect x="227.5" y="14.5" width="15" height="15" fill="#0606f6"/>
<rect x="254.5" y="14.5" width="15" height="15" fill="#0606f6"/>
<rect x="282.5" y="42.5" width="15" height="15" fill="#0606f6"/>
<rect x="282.5" y="70.5" width="15" height="15" fill="#0606f6"/>
<rect x="310.5" y="70.5" width="15" height="15" fill="#0606f6"/>
<rect x="164.5" y="154.5" width="15" height="15" fill="#0606f6"/>
<rect x="192.5" y="154.5" width="15" height="15" fill="#0606f6"/>
<rect x="340.5" y="154.5" width="15" height="15" fill="#0606f6"/>
<rect x="164.5" y="182.5" width="15" height="15" fill="#0606f6"/>
<rect x="192.5" y="182.5" width="15" height="15" fill="#0606f6"/>
<rect x="340.5" y="182.5" width="15" height="15" fill="#0606f6"/>
<rect x="312.5" y="182.5" width="15" height="15" fill="#0606f6"/>
<rect x="20.5" y="210.5" width="15" height="15" fill="#0606f6"/>
<rect x="49.5" y="210.5" width="15" height="15" fill="#0606f6"/>
<rect x="77.5" y="210.5" width="15" height="15" fill="#0606f6"/>
<rect x="107.5" y="210.5" width="15" height="15" fill="#0606f6"/>
<rect x="135.5" y="210.5" width="15" height="15" fill="#0606f6"/>
<rect x="164.5" y="210.5" width="15" height="15" fill="#0606f6"/>
<rect x="192.5" y="210.5" width="15" height="15" fill="#0606f6"/>
<rect x="282.5" y="210.5" width="15" height="15" fill="#0606f6"/>
<rect x="310.5" y="210.5" width="15" height="15" fill="#0606f6"/>
<rect x="20.5" y="237.5" width="15" height="15" fill="#0606f6"/>
<rect x="49.5" y="237.5" width="15" height="15" fill="#0606f6"/>
<rect x="77.5" y="237.5" width="15" height="15" fill="#0606f6"/>
<rect x="164.5" y="237.5" width="15" height="15" fill="#0606f6"/>
<rect x="192.5" y="237.5" width="15" height="15" fill="#0606f6"/>
<rect x="224.5" y="237.5" width="15" height="15" fill="#0606f6"/>
<rect x="20.5" y="264.5" width="15" height="15" fill="#0606f6"/>
<rect x="49.5" y="264.5" width="15" height="15" fill="#0606f6"/>
<rect x="77.5" y="264.5" width="15" height="15" fill="#0606f6"/>
<rect x="135.5" y="264.5" width="15" height="15" fill="#0606f6"/>
<rect x="192.5" y="264.5" width="15" height="15" fill="#0606f6"/>
<rect x="224.5" y="264.5" width="15" height="15" fill="#0606f6"/>
<rect x="254.5" y="264.5" width="15" height="15" fill="#0606f6"/>
<rect x="49.5" y="292.5" width="15" height="15" fill="#0606f6"/>
<rect x="254.5" y="292.5" width="15" height="15" fill="#0606f6"/>
<rect x="49.5" y="320.5" width="15" height="15" fill="#0606f6"/>
<rect x="260.5" y="332.5" width="15" height="15" fill="#0606f6"/>
<rect x="288.5" y="332.5" width="15" height="15" fill="#0606f6"/>
<rect x="197.5" y="360.5" width="15" height="15" fill="#0606f6"/>
<rect x="224.5" y="360.5" width="15" height="15" fill="#0606f6"/>
<rect x="260.5" y="360.5" width="15" height="15" fill="#0606f6"/>
<rect x="288.5" y="360.5" width="15" height="15" fill="#0606f6"/>
<rect x="197.5" y="382.5" width="15" height="15" fill="#0606f6"/>
<rect x="224.5" y="382.5" width="15" height="15" fill="#0606f6"/>
<rect x="254.5" y="382.5" width="15" height="15" fill="#0606f6"/>
<rect x="288.5" y="382.5" width="15" height="15" fill="#0606f6"/>
<rect x="400" y="245" width="15" height="30" fill="#0606f6"/>
<rect x="430" y="245" width="15" height="30" fill="#0606f6"/>
<polygon points="455,245 475,245 475,270 495,285 495,315 470,315 470,295 455,280" fill="#0606f6"/>
<rect x="514.5" y="157.5" width="15" height="15" fill="#0606f6"/>
<rect x="514.5" y="187.5" width="15" height="15" fill="#0606f6"/>
<rect x="514.5" y="212.5" width="15" height="15" fill="#0606f6"/>
<rect x="514.5" y="237.5" width="15" height="15" fill="#0606f6"/>
<rect x="514.5" y="287.5" width="15" height="15" fill="#0606f6"/>
<rect x="457.5" y="367.5" width="15" height="15" fill="#0606f6"/>
<polygon points="80,118 130,118 130,140 150,140 150,160 130,160 130,185 108,185 108,160 95,160 95,140 80,140" fill="#fe0606"/>
<rect x="398" y="88" width="14" height="52" fill="#fe0606"/>
<rect x="385" y="100" width="40" height="13" fill="#fe0606"/>
<rect x="0" y="105" width="8" height="30" fill="#fe0606"/>
<polygon points="110,278 130,278 180,315 180,330 160,330 110,290" fill="#fe0606"/>
<polygon points="50,350 65,350 65,375 40,375 40,362" fill="#fe0606"/>
<polygon points="328,335 385,335 385,396 350,396 350,375 328,375" fill="#fe0606"/>
<rect x="470" y="385" width="60" height="12" fill="#fe0606"/>
<rect x="515" y="365" width="15" height="22" fill="#fe0606"/>
</g>
<g transform="translate(410,260) scale(0.15152)">
<polygon points="45,0 295,0 295,110 275,110 275,95 185,95 185,110 140,110 140,95 95,95 95,80 30,80 30,65 0,65 0,45 30,45 30,20 45,20" fill="#0606f6"/>
<polygon points="135,0 225,0 200,25 135,25" fill="#fe0606"/>
<rect x="190" y="105" width="42" height="40" fill="#fe0606"/>
<rect x="310.5" y="70.5" width="15" height="15" fill="#0606f6"/>
<rect x="367.5" y="70.5" width="15" height="15" fill="#0606f6"/>
<rect x="392.5" y="70.5" width="15" height="15" fill="#0606f6"/>
<rect x="14.5" y="97.5" width="15" height="15" fill="#0606f6"/>
<rect x="310.5" y="97.5" width="15" height="15" fill="#0606f6"/>
<rect x="337.5" y="97.5" width="15" height="15" fill="#0606f6"/>
<rect x="367.5" y="97.5" width="15" height="15" fill="#0606f6"/>
<rect x="392.5" y="97.5" width="15" height="15" fill="#0606f6"/>
<rect x="422.5" y="97.5" width="15" height="15" fill="#0606f6"/>
<rect x="242.5" y="125.5" width="15" height="15" fill="#0606f6"/>
<rect x="272.5" y="125.5" width="15" height="15" fill="#0606f6"/>
<rect x="367.5" y="125.5" width="15" height="15" fill="#0606f6"/>
<rect x="392.5" y="125.5" width="15" height="15" fill="#0606f6"/>
<rect x="480.5" y="125.5" width="15" height="15" fill="#0606f6"/>
<rect x="187.5" y="152.5" width="15" height="15" fill="#0606f6"/>
<rect x="214.5" y="152.5" width="15" height="15" fill="#0606f6"/>
<rect x="272.5" y="152.5" width="15" height="15" fill="#0606f6"/>
<rect x="302.5" y="152.5" width="15" height="15" fill="#0606f6"/>
<rect x="367.5" y="152.5" width="15" height="15" fill="#0606f6"/>
<rect x="392.5" y="152.5" width="15" height="15" fill="#0606f6"/>
<rect x="422.5" y="152.5" width="15" height="15" fill="#0606f6"/>
<rect x="452.5" y="152.5" width="15" height="15" fill="#0606f6"/>
<rect x="480" y="153" width="30" height="14" fill="#0606f6"/>
<rect x="132.5" y="182.5" width="15" height="15" fill="#0606f6"/>
<rect x="242.5" y="182.5" width="15" height="15" fill="#0606f6"/>
<rect x="272.5" y="182.5" width="15" height="15" fill="#0606f6"/>
<rect x="302.5" y="182.5" width="15" height="15" fill="#0606f6"/>
<rect x="332.5" y="182.5" width="15" height="15" fill="#0606f6"/>
<rect x="165" y="183" width="37" height="14" fill="#0606f6"/>
<rect x="480" y="183" width="30" height="14" fill="#0606f6"/>
<rect x="72.5" y="210.5" width="15" height="15" fill="#0606f6"/>
<rect x="102.5" y="210.5" width="15" height="15" fill="#0606f6"/>
<rect x="132.5" y="210.5" width="15" height="15" fill="#0606f6"/>
<rect x="157.5" y="210.5" width="15" height="15" fill="#0606f6"/>
<rect x="332.5" y="210.5" width="15" height="15" fill="#0606f6"/>
<rect x="102.5" y="237.5" width="15" height="15" fill="#0606f6"/>
<rect x="132.5" y="237.5" width="15" height="15" fill="#0606f6"/>
<rect x="157.5" y="237.5" width="15" height="15" fill="#0606f6"/>
<rect x="187.5" y="237.5" width="15" height="15" fill="#0606f6"/>
<rect x="332.5" y="237.5" width="15" height="15" fill="#0606f6"/>
<rect x="132.5" y="277.5" width="15" height="15" fill="#0606f6"/>
<rect x="187.5" y="304.5" width="15" height="15" fill="#0606f6"/>
<rect x="214.5" y="304.5" width="15" height="15" fill="#0606f6"/>
<rect x="400" y="305" width="35" height="13" fill="#0606f6"/>
<rect x="482.5" y="264.5" width="15" height="15" fill="#0606f6"/>
<rect x="482.5" y="292.5" width="15" height="15" fill="#0606f6"/>
<rect x="367.5" y="332.5" width="15" height="15" fill="#0606f6"/>
<rect x="392.5" y="332.5" width="15" height="15" fill="#0606f6"/>
<rect x="367.5" y="360.5" width="15" height="15" fill="#0606f6"/>
<rect x="242.5" y="382.5" width="15" height="15" fill="#0606f6"/>
<rect x="272.5" y="382.5" width="15" height="15" fill="#0606f6"/>
<rect x="367.5" y="382.5" width="15" height="15" fill="#0606f6"/>
<rect x="20" y="205" width="15" height="55" fill="#0606f6"/>
<rect x="0" y="225" width="50" height="15" fill="#0606f6"/>
<rect x="50" y="350" width="15" height="46" fill="#0606f6"/>
<rect x="65" y="370" width="20" height="15" fill="#0606f6"/>
<rect x="0" y="0" width="35" height="20" fill="#fe0606"/>
<rect x="30.5" y="157.5" width="15" height="15" fill="#fe0606"/>
<polygon points="15,280 72,280 72,325 40,325 40,310 15,310" fill="#fe0606"/>
<rect x="392.5" y="202.5" width="15" height="15" fill="#fe0606"/>
<rect x="422.5" y="202.5" width="15" height="15" fill="#fe0606"/>
<rect x="130.5" y="332.5" width="15" height="15" fill="#fe0606"/>
<rect x="432.5" y="360.5" width="15" height="15" fill="#fe0606"/>
<rect x="190" y="365" width="25" height="25" fill="#fe0606"/>
<polygon points="495,50 510,50 510,100 485,100 485,75" fill="#fe0606"/>
<rect x="480" y="335" width="30" height="40" fill="#fe0606"/>
<rect x="480" y="385" width="30" height="12" fill="#fe0606"/>
</g>
<g transform="translate(10,320) scale(0.15152)">
<polygon points="0,100 20,100 45,125 45,135 0,135" fill="#fe0606"/>
<rect x="0" y="345" width="48" height="40" fill="#fe0606"/>
<polygon points="268,42 305,42 305,90 290,90 290,110 268,110" fill="#fe0606"/>
<rect x="207.5" y="7.5" width="15" height="15" fill="#0606f6"/>
<rect x="207.5" y="37.5" width="15" height="15" fill="#0606f6"/>
<rect x="322.5" y="64.5" width="15" height="15" fill="#0606f6"/>
<rect x="350.5" y="64.5" width="15" height="15" fill="#0606f6"/>
<rect x="322.5" y="92.5" width="15" height="15" fill="#0606f6"/>
<rect x="322.5" y="120.5" width="15" height="15" fill="#0606f6"/>
<rect x="382.5" y="120.5" width="15" height="15" fill="#0606f6"/>
<rect x="440.5" y="120.5" width="15" height="15" fill="#0606f6"/>
<rect x="350" y="95" width="15" height="40" fill="#0606f6"/>
<rect x="32.5" y="167.5" width="15" height="15" fill="#0606f6"/>
<rect x="65" y="140" width="13" height="42" fill="#0606f6"/>
<rect x="430" y="0" width="25" height="30" fill="#0606f6"/>
<rect x="475" y="0" width="55" height="30" fill="#fe0606"/>
<polygon points="455,40 480,40 480,50 528,50 528,90 510,90 510,75 470,75 470,65 455,65 445,60" fill="#0606f6"/>
</g>
<g transform="translate(90,320) scale(0.15152)">
<rect x="0" y="0" width="45" height="22" fill="#fe0606"/>
<polygon points="0,40 55,40 55,55 70,55 70,105 30,105 30,90 0,90" fill="#0606f6"/>
<rect x="202.5" y="37.5" width="15" height="15" fill="#0606f6"/>
<polygon points="85,110 115,110 115,120 160,120 160,110 200,110 200,100 215,100 215,125 205,125 205,205 185,205 185,170 85,170 85,185 55,185 55,170 30,170 30,130 85,130" fill="#0606f6"/>
<polygon points="85,172 185,172 185,210 135,210 135,222 115,222 115,210 85,210" fill="#fe0606"/>
<rect x="260.5" y="122.5" width="15" height="15" fill="#fe0606"/>
<rect x="230.5" y="152.5" width="15" height="15" fill="#fe0606"/>
<polygon points="245,172 290,172 290,240 260,240 260,215 232,200 232,185 245,185" fill="#fe0606"/>
<polygon points="395,185 412,185 412,198 432,198 432,210 412,225 400,240 375,240 375,205 395,205" fill="#fe0606"/>
<rect x="505" y="210" width="25" height="30" fill="#fe0606"/>
<rect x="347.5" y="92.5" width="15" height="15" fill="#0606f6"/>
<rect x="377.5" y="152.5" width="15" height="15" fill="#0606f6"/>
<rect x="489.5" y="122.5" width="15" height="15" fill="#0606f6"/>
<rect x="489.5" y="150.5" width="15" height="15" fill="#0606f6"/>
<rect x="502.5" y="164.5" width="15" height="15" fill="#0606f6"/>
</g>
<g transform="translate(170,320) scale(0.15152)">
<polygon points="40,135 85,135 85,125 120,125 120,135 180,135 180,100 215,100 215,165 232,165 232,200 215,200 215,215 200,215 200,300 40,300" fill="#0606f6"/>
<rect x="17.5" y="307.5" width="15" height="15" fill="#0606f6"/>
<rect x="65" y="210" width="15" height="50" fill="#74ffdf"/>
<rect x="140" y="185" width="25" height="15" fill="#74ffdf"/>
<polygon points="80,200 140,200 140,225 190,225 190,270 140,270 140,255 80,255" fill="#fe0606"/>
<rect x="77.5" y="37.5" width="15" height="15" fill="#0606f6"/>
<polygon points="255,10 310,10 310,60 290,60 290,100 280,100 280,130 270,130 270,165 250,165 250,100 255,100" fill="#0606f6"/>
<polygon points="310,10 450,10 450,85 470,85 470,130 500,130 500,145 528,145 528,340 490,340 490,325 400,325 400,310 360,310 360,290 345,290 345,255 330,255 330,250 255,250 255,228 300,228 300,215 330,215 330,200 345,200 345,135 335,135 335,100 350,100 350,85 310,85" fill="#0606f6"/>
<rect x="495" y="225" width="35" height="40" fill="#74ffdf"/>
<polygon points="345,15 395,15 395,60 380,60 380,85 315,85 315,65 345,65" fill="#fe0606"/>
<rect x="310.5" y="92.5" width="15" height="15" fill="#fe0606"/>
<rect x="415" y="205" width="65" height="65" fill="#fe0606"/>
<rect x="238" y="318" width="52" height="52" fill="#fe0606"/>
<polygon points="300,318 360,318 360,345 345,345 345,370 320,370 320,345 300,345" fill="#fe0606"/>
<rect x="385" y="345" width="20" height="40" fill="#0606f6"/>
<rect x="405" y="370" width="45" height="15" fill="#0606f6"/>
</g>
<g transform="translate(250,320) scale(0.15152)">
<polygon points="0,140 15,140 25,150 25,175 15,185 0,185" fill="#0606f6"/>
<rect x="42.5" y="152.5" width="15" height="15" fill="#0606f6"/>
<rect x="0" y="285" width="15" height="55" fill="#0606f6"/>
<rect x="15" y="228" width="55" height="57" fill="#fe0606"/>
<rect x="38" y="240" width="20" height="20" fill="#74ffdf"/>
<rect x="145" y="258" width="55" height="40" fill="#0606f6"/>
<rect x="232.5" y="22.5" width="15" height="15" fill="#0606f6"/>
<rect x="260.5" y="22.5" width="15" height="15" fill="#0606f6"/>
<rect x="232.5" y="110.5" width="15" height="15" fill="#0606f6"/>
<rect x="260.5" y="170.5" width="15" height="15" fill="#0606f6"/>
<rect x="217.5" y="197.5" width="15" height="15" fill="#0606f6"/>
<rect x="117.5" y="284.5" width="15" height="15" fill="#0606f6"/>
<rect x="262" y="68" width="41" height="27" fill="#fe0606"/>
<rect x="347.5" y="110.5" width="15" height="15" fill="#fe0606"/>
<rect x="380" y="40" width="15" height="22" fill="#fe0606"/>
<rect x="380" y="55" width="38" height="13" fill="#fe0606"/>
<rect x="435" y="0" width="15" height="8" fill="#fe0606"/>
<rect x="462.5" y="54.5" width="15" height="15" fill="#0606f6"/>
<rect x="489.5" y="54.5" width="15" height="15" fill="#0606f6"/>
<rect x="515" y="55" width="15" height="14" fill="#0606f6"/>
<rect x="462.5" y="82.5" width="15" height="15" fill="#0606f6"/>
<rect x="489.5" y="82.5" width="15" height="15" fill="#0606f6"/>
<rect x="520.5" y="82.5" width="15" height="15" fill="#0606f6"/>
<rect x="489.5" y="140.5" width="15" height="15" fill="#0606f6"/>
<rect x="510" y="200" width="20" height="12" fill="#0606f6"/>
<rect x="450.5" y="227.5" width="15" height="15" fill="#0606f6"/>
<rect x="479.5" y="227.5" width="15" height="15" fill="#0606f6"/>
<rect x="507.5" y="227.5" width="15" height="15" fill="#0606f6"/>
<rect x="450.5" y="255.5" width="15" height="15" fill="#0606f6"/>
<rect x="479.5" y="255.5" width="15" height="15" fill="#0606f6"/>
<rect x="507.5" y="255.5" width="15" height="15" fill="#0606f6"/>
<rect x="507.5" y="284.5" width="15" height="15" fill="#0606f6"/>
<rect x="275" y="258" width="43" height="14" fill="#fe0606"/>
<rect x="275" y="272" width="15" height="18" fill="#fe0606"/>
<polygon points="295,275 305,275 318,290 318,300 308,300 295,288" fill="#fe0606"/>
<rect x="275.5" y="312.5" width="15" height="15" fill="#fe0606"/>
<rect x="337.5" y="314.5" width="15" height="15" fill="#fe0606"/>
<polygon points="335,340 360,340 360,328 378,328 378,358 335,358" fill="#fe0606"/>
<rect x="160" y="340" width="40" height="18" fill="#fe0606"/>
<rect x="217.5" y="342.5" width="15" height="15" fill="#fe0606"/>
</g>
<g transform="translate(330,320) scale(0.15152)">
<rect x="0" y="25" width="10" height="15" fill="#0606f6"/>
<rect x="20.5" y="24.5" width="15" height="15" fill="#0606f6"/>
<rect x="0" y="60" width="8" height="30" fill="#0606f6"/>
<rect x="197.5" y="-2.5" width="15" height="15" fill="#0606f6"/>
<rect x="224.5" y="-2.5" width="15" height="15" fill="#0606f6"/>
<rect x="254.5" y="-2.5" width="15" height="15" fill="#0606f6"/>
<rect x="167.5" y="24.5" width="15" height="15" fill="#0606f6"/>
<rect x="197.5" y="24.5" width="15" height="15" fill="#0606f6"/>
<rect x="224.5" y="24.5" width="15" height="15" fill="#0606f6"/>
<rect x="254.5" y="24.5" width="15" height="15" fill="#0606f6"/>
<rect x="167.5" y="52.5" width="15" height="15" fill="#0606f6"/>
<rect x="197.5" y="52.5" width="15" height="15" fill="#0606f6"/>
<rect x="224.5" y="52.5" width="15" height="15" fill="#0606f6"/>
<rect x="254.5" y="52.5" width="15" height="15" fill="#0606f6"/>
<rect x="282.5" y="52.5" width="15" height="15" fill="#0606f6"/>
<rect x="167.5" y="80.5" width="15" height="15" fill="#0606f6"/>
<rect x="282.5" y="80.5" width="15" height="15" fill="#0606f6"/>
<rect x="310.5" y="80.5" width="15" height="15" fill="#0606f6"/>
<rect x="345" y="22" width="25" height="16" fill="#0606f6"/>
<rect x="400" y="82" width="45" height="13" fill="#0606f6"/>
<rect x="457.5" y="80.5" width="15" height="15" fill="#0606f6"/>
<rect x="487.5" y="80.5" width="15" height="15" fill="#0606f6"/>
<rect x="514.5" y="80.5" width="15" height="15" fill="#0606f6"/>
<rect x="490" y="112" width="40" height="13" fill="#0606f6"/>
<rect x="8" y="170" width="14" height="65" fill="#0606f6"/>
<rect x="0" y="195" width="22" height="13" fill="#0606f6"/>
<rect x="150" y="175" width="45" height="35" fill="#0606f6"/>
<rect x="165" y="188" width="15" height="10" fill="#74ffdf"/>
<rect x="125" y="190" width="25" height="25" fill="#0606f6"/>
<rect x="155" y="210" width="17" height="85" fill="#0606f6"/>
<rect x="172" y="235" width="23" height="15" fill="#0606f6"/>
<rect x="172" y="258" width="23" height="12" fill="#0606f6"/>
<rect x="122.5" y="312.5" width="15" height="15" fill="#0606f6"/>
<rect x="358" y="228" width="27" height="12" fill="#0606f6"/>
<polygon points="445,245 455,245 455,255 440,270 430,270 430,260" fill="#0606f6"/>
<rect x="502.5" y="230.5" width="15" height="15" fill="#0606f6"/>
<rect x="345" y="0" width="40" height="8" fill="#fe0606"/>
<polygon points="455,10 470,10 470,20 485,20 485,5 528,5 528,50 500,50 500,65 460,65 460,40 430,40 430,25 455,25" fill="#fe0606"/>
<polygon points="60,115 80,115 95,130 95,140 135,140 135,165 115,180 60,180 38,165 38,140 60,130" fill="#fe0606"/>
<polygon points="65,255 108,255 108,280 85,280 85,295 65,295" fill="#fe0606"/>
<rect x="38" y="285" width="12" height="27" fill="#fe0606"/>
<rect x="488" y="145" width="12" height="65" fill="#fe0606"/>
<rect x="460" y="175" width="70" height="15" fill="#fe0606"/>
<rect x="470" y="190" width="15" height="15" fill="#fe0606"/>
<rect x="510" y="155" width="20" height="50" fill="#fe0606"/>
<rect x="500" y="225" width="15" height="65" fill="#fe0606"/>
<rect x="442.5" y="284.5" width="15" height="15" fill="#fe0606"/>
<rect x="470.5" y="284.5" width="15" height="15" fill="#fe0606"/>
<rect x="442.5" y="314.5" width="15" height="15" fill="#fe0606"/>
<rect x="470.5" y="314.5" width="15" height="15" fill="#fe0606"/>
<rect x="442.5" y="342.5" width="15" height="15" fill="#fe0606"/>
<rect x="470.5" y="370.5" width="15" height="15" fill="#fe0606"/>
<rect x="514.5" y="302.5" width="15" height="15" fill="#fe0606"/>
</g>
<g transform="translate(410,320) scale(0.15152)">
<rect x="20" y="0" width="90" height="12" fill="#0606f6"/>
<rect x="14.5" y="24.5" width="15" height="15" fill="#0606f6"/>
<rect x="42.5" y="24.5" width="15" height="15" fill="#0606f6"/>
<rect x="70.5" y="24.5" width="15" height="15" fill="#0606f6"/>
<rect x="100" y="20" width="15" height="40" fill="#0606f6"/>
<rect x="14.5" y="52.5" width="15" height="15" fill="#0606f6"/>
<rect x="42.5" y="52.5" width="15" height="15" fill="#0606f6"/>
<rect x="70.5" y="52.5" width="15" height="15" fill="#0606f6"/>
<rect x="42.5" y="82.5" width="15" height="15" fill="#0606f6"/>
<rect x="70.5" y="82.5" width="15" height="15" fill="#0606f6"/>
<rect x="60" y="112" width="28" height="13" fill="#0606f6"/>
<rect x="42.5" y="140.5" width="15" height="15" fill="#0606f6"/>
<rect x="250" y="0" width="12" height="30" fill="#0606f6"/>
<rect x="282.5" y="-2.5" width="15" height="15" fill="#0606f6"/>
<rect x="367.5" y="-2.5" width="15" height="15" fill="#0606f6"/>
<rect x="282.5" y="24.5" width="15" height="15" fill="#0606f6"/>
<rect x="310.5" y="24.5" width="15" height="15" fill="#0606f6"/>
<rect x="310.5" y="52.5" width="15" height="15" fill="#0606f6"/>
<rect x="492.5" y="2.5" width="15" height="15" fill="#0606f6"/>
<rect x="217.5" y="80.5" width="15" height="15" fill="#0606f6"/>
<rect x="187.5" y="110.5" width="15" height="15" fill="#0606f6"/>
<rect x="217.5" y="110.5" width="15" height="15" fill="#0606f6"/>
<rect x="247.5" y="110.5" width="15" height="15" fill="#0606f6"/>
<rect x="157.5" y="140.5" width="15" height="15" fill="#0606f6"/>
<rect x="187.5" y="140.5" width="15" height="15" fill="#0606f6"/>
<rect x="217.5" y="140.5" width="15" height="15" fill="#0606f6"/>
<rect x="247.5" y="140.5" width="15" height="15" fill="#0606f6"/>
<rect x="148" y="172" width="84" height="13" fill="#0606f6"/>
<rect x="172.5" y="197.5" width="15" height="15" fill="#0606f6"/>
<rect x="202.5" y="197.5" width="15" height="15" fill="#0606f6"/>
<rect x="232.5" y="227.5" width="15" height="15" fill="#0606f6"/>
<rect x="117.5" y="237.5" width="15" height="15" fill="#0606f6"/>
<rect x="392.5" y="82.5" width="15" height="15" fill="#0606f6"/>
<rect x="422.5" y="82.5" width="15" height="15" fill="#0606f6"/>
<rect x="367.5" y="110.5" width="15" height="15" fill="#0606f6"/>
<rect x="392.5" y="110.5" width="15" height="15" fill="#0606f6"/>
<rect x="422.5" y="110.5" width="15" height="15" fill="#0606f6"/>
<rect x="307.5" y="140.5" width="15" height="15" fill="#0606f6"/>
<rect x="337.5" y="140.5" width="15" height="15" fill="#0606f6"/>
<rect x="367.5" y="140.5" width="15" height="15" fill="#0606f6"/>
<rect x="392.5" y="140.5" width="15" height="15" fill="#0606f6"/>
<rect x="422.5" y="140.5" width="15" height="15" fill="#0606f6"/>
<rect x="320.5" y="170.5" width="15" height="15" fill="#0606f6"/>
<polygon points="320,198 420,198 420,215 400,215 400,225 380,225 380,240 320,240" fill="#0606f6"/>
<rect x="455" y="172" width="25" height="13" fill="#0606f6"/>
<rect x="465" y="185" width="15" height="15" fill="#0606f6"/>
<rect x="435" y="195" width="30" height="13" fill="#0606f6"/>
<rect x="435" y="208" width="15" height="17" fill="#0606f6"/>
<rect x="492.5" y="197.5" width="15" height="15" fill="#0606f6"/>
<rect x="202.5" y="342.5" width="15" height="15" fill="#0606f6"/>
<rect x="317.5" y="342.5" width="15" height="15" fill="#0606f6"/>
<rect x="350" y="328" width="15" height="30" fill="#0606f6"/>
<rect x="380" y="328" width="15" height="30" fill="#0606f6"/>
<rect x="405" y="328" width="15" height="30" fill="#0606f6"/>
<rect x="450.5" y="327.5" width="15" height="15" fill="#0606f6"/>
<rect x="290" y="372" width="40" height="13" fill="#0606f6"/>
<rect x="315" y="385" width="15" height="12" fill="#0606f6"/>
<rect x="0" y="160" width="12" height="20" fill="#fe0606"/>
<rect x="7.5" y="197.5" width="15" height="15" fill="#fe0606"/>
<rect x="32.5" y="197.5" width="15" height="15" fill="#fe0606"/>
<rect x="60.5" y="197.5" width="15" height="15" fill="#fe0606"/>
<rect x="7.5" y="227.5" width="15" height="15" fill="#fe0606"/>
<rect x="32.5" y="227.5" width="15" height="15" fill="#fe0606"/>
<rect x="60" y="228" width="45" height="14" fill="#fe0606"/>
<rect x="7.5" y="254.5" width="15" height="15" fill="#fe0606"/>
<rect x="32.5" y="254.5" width="15" height="15" fill="#fe0606"/>
<rect x="0" y="285" width="75" height="13" fill="#fe0606"/>
<rect x="35" y="298" width="13" height="27" fill="#fe0606"/>
<rect x="0" y="310" width="15" height="15" fill="#fe0606"/>
<rect x="30" y="372" width="45" height="13" fill="#fe0606"/>
<rect x="88" y="360" width="14" height="25" fill="#fe0606"/>
<polygon points="262,170 275,170 292,190 292,212 262,212" fill="#fe0606"/>
<polygon points="395,245 415,245 415,255 490,255 490,270 480,270 480,298 348,298 348,260 395,260" fill="#fe0606"/>
<rect x="495" y="280" width="15" height="18" fill="#fe0606"/>
<polygon points="465,55 480,55 480,70 510,70 510,85 490,95 465,95" fill="#fe0606"/>
<rect x="495" y="5" width="15" height="15" fill="#fe0606"/>
</g>
<circle cx="25.2" cy="223.9" r="3.03" fill="#1fe01f"/>
<circle cx="49.7" cy="210.6" r="1.82" fill="#1fe01f"/>
<circle cx="54.2" cy="215.6" r="1.82" fill="#1fe01f"/>
<circle cx="119.5" cy="243.9" r="2.12" fill="#1fe01f"/>
<circle cx="132.4" cy="254.8" r="3.03" fill="#1fe01f"/>
<circle cx="242.4" cy="207.6" r="2.12" fill="#1fe01f"/>
<circle cx="219.2" cy="225.3" r="2.12" fill="#1fe01f"/>
<circle cx="221.2" cy="255.8" r="3.64" fill="#1fe01f"/>
<circle cx="341.4" cy="235.2" r="1.82" fill="#1fe01f"/>
<circle cx="427.9" cy="252.0" r="1.82" fill="#1fe01f"/>
<circle cx="23.3" cy="294.1" r="3.03" fill="#1fe01f"/>
<circle cx="51.2" cy="292.6" r="1.97" fill="#1fe01f"/>
<circle cx="38.5" cy="300.5" r="1.97" fill="#1fe01f"/>
<circle cx="97.3" cy="279.2" r="3.03" fill="#1fe01f"/>
<circle cx="124.5" cy="294.1" r="1.97" fill="#1fe01f"/>
<circle cx="187.4" cy="273.3" r="3.64" fill="#1fe01f"/>
<circle cx="199.1" cy="273.6" r="1.67" fill="#1fe01f"/>
<circle cx="189.7" cy="280.5" r="1.82" fill="#1fe01f"/>
<circle cx="197.7" cy="285.0" r="1.82" fill="#1fe01f"/>
<circle cx="424.7" cy="263.8" r="1.67" fill="#1fe01f"/>
<circle cx="432.0" cy="265.8" r="1.82" fill="#1fe01f"/>
<circle cx="40.6" cy="326.1" r="1.82" fill="#1fe01f"/>
<circle cx="50.9" cy="331.8" r="1.82" fill="#1fe01f"/>
<circle cx="140.0" cy="342.4" r="1.97" fill="#1fe01f"/>
<circle cx="150.6" cy="342.4" r="3.33" fill="#1fe01f"/>
<circle cx="221.2" cy="326.4" r="2.73" fill="#1fe01f"/>
<circle cx="229.8" cy="350.0" r="1.97" fill="#1fe01f"/>
<circle cx="245.8" cy="348.8" r="1.97" fill="#1fe01f"/>
<circle cx="231.8" cy="354.8" r="1.97" fill="#1fe01f"/>
<circle cx="240.5" cy="352.6" r="1.97" fill="#1fe01f"/>
<circle cx="235.5" cy="364.7" r="3.33" fill="#1fe01f"/>
<circle cx="243.8" cy="364.7" r="1.97" fill="#1fe01f"/>
<circle cx="246.5" cy="368.8" r="1.97" fill="#1fe01f"/>
<circle cx="252.3" cy="361.7" r="1.52" fill="#1fe01f"/>
<circle cx="256.1" cy="365.5" r="2.73" fill="#1fe01f"/>
<circle cx="284.5" cy="355.2" r="1.97" fill="#1fe01f"/>
<circle cx="306.4" cy="364.2" r="1.97" fill="#1fe01f"/>
<circle cx="271.5" cy="368.2" r="1.97" fill="#1fe01f"/>
<circle cx="279.2" cy="370.8" r="1.82" fill="#1fe01f"/>
<circle cx="389.8" cy="375.6" r="1.97" fill="#1fe01f"/>
<circle cx="436.1" cy="360.2" r="1.97" fill="#1fe01f"/>
</g>
<rect x="10.0" y="200.5" width="478.0" height="183.5" fill="none" stroke="#556" stroke-width="0.7"/>
<circle cx="88.2" cy="265" r="3.2" fill="#fff" fill-opacity="0.25" stroke="#777" stroke-width="0.6"/><circle cx="88.2" cy="265" r="1.6" fill="none" stroke="#888" stroke-width="0.5"/>
<text x="15.3" y="219" font-size="8.5" textLength="24" lengthAdjust="spacingAndGlyphs" fill="#1a1a1a">Gangji</text>
<text x="124.8" y="249.7" font-size="8.5" textLength="15" lengthAdjust="spacingAndGlyphs" fill="#1a1a1a">Lari</text>
<text x="92.7" y="259.4" font-size="8.5" textLength="23.8" lengthAdjust="spacingAndGlyphs" fill="#1a1a1a"><tspan font-weight="bold">Lhasa</tspan></text>
<text x="212.5" y="250" font-size="8.5" textLength="19" lengthAdjust="spacingAndGlyphs" fill="#1a1a1a">Numa</text>
<text x="13.9" y="288.6" font-size="8.5" textLength="18.6" lengthAdjust="spacingAndGlyphs" fill="#1a1a1a">Liebu</text>
<text x="85" y="273.3" font-size="8.5" textLength="22.5" lengthAdjust="spacingAndGlyphs" fill="#1a1a1a">Yuejin</text>
<text x="174.5" y="266.4" font-size="8.5" textLength="26" lengthAdjust="spacingAndGlyphs" fill="#1a1a1a">Qulong</text>
<text x="142.3" y="336.7" font-size="8.5" textLength="16.7" lengthAdjust="spacingAndGlyphs" fill="#1a1a1a">Kelu</text>
<text x="188.9" y="376.8" font-size="8.5" textLength="43" lengthAdjust="spacingAndGlyphs" fill="#1a1a1a">Chongmuda</text>
<text x="204.8" y="320.3" font-size="8.5" textLength="34" lengthAdjust="spacingAndGlyphs" fill="#1a1a1a">Tangjiang</text>
<text x="256" y="359" font-size="8.5" textLength="25" lengthAdjust="spacingAndGlyphs" fill="#1a1a1a">Chenba</text>
</g>
<text x="452.8" y="200" font-size="7.1" textLength="34.5" lengthAdjust="spacingAndGlyphs" fill="#111" stroke="#111" stroke-width="0.15">93°00&#39;00&quot;E</text>
<text transform="translate(488.6,201.3) rotate(90)" font-size="7.1" textLength="34" lengthAdjust="spacingAndGlyphs" fill="#111" stroke="#111" stroke-width="0.15">29°55&#39;00&quot;N</text>
<text x="10" y="390.2" font-size="7.1" textLength="34.5" lengthAdjust="spacingAndGlyphs" fill="#111" stroke="#111" stroke-width="0.15">90°45&#39;00&quot;E</text>
<text transform="translate(9.8,384.3) rotate(-90)" font-size="7.1" textLength="34.5" lengthAdjust="spacingAndGlyphs" fill="#111" stroke="#111" stroke-width="0.15">29°10&#39;00&quot;N</text>
<text x="518.6" y="202.6" font-size="9.8" fill="#333" stroke="#333" stroke-width="0.2">(b)</text>
<text class="s b" x="510.6" y="223.2" text-anchor="middle" font-size="7.5" fill="#111">N</text>
<path d="M511,225.5 L505.4,244.2 L511,240 Z" fill="#111" stroke="#111" stroke-width="0.6" stroke-linejoin="round"/>
<path d="M511,225.5 L516.6,244.2 L511,240 Z" fill="#fff" stroke="#111" stroke-width="0.7" stroke-linejoin="round"/>
<circle cx="498.9" cy="262.8" r="2.9" fill="#eee" stroke="#777" stroke-width="0.6"/><circle cx="498.9" cy="262.8" r="1.4" fill="#ddd" stroke="#888" stroke-width="0.5"/>
<text x="505" y="265.4" font-size="7.5" textLength="12" lengthAdjust="spacingAndGlyphs" fill="#222">City</text>
<circle cx="498.9" cy="281" r="3.2" fill="#1fe01f"/>
<text x="505" y="283.6" font-size="7.8" textLength="38.2" lengthAdjust="spacingAndGlyphs" fill="#222">Cu_deposits</text>
<text x="498.8" y="303.5" font-size="10.5" textLength="33" lengthAdjust="spacingAndGlyphs" fill="#333">E-type α</text>
<rect x="497.4" y="316.9" width="11.4" height="9.2" fill="#fe0606"/>
<rect x="497.4" y="334" width="11.4" height="9.2" fill="#74ffdf"/>
<rect x="497.4" y="351.5" width="11.4" height="9.2" fill="#2846f0"/>
<text x="511.5" y="325.0" font-size="9" textLength="20.3" lengthAdjust="spacingAndGlyphs" fill="#333">0.431</text>
<text x="511.5" y="342.0" font-size="9" textLength="20.3" lengthAdjust="spacingAndGlyphs" fill="#333">1.943</text>
<text x="511.5" y="359.5" font-size="9" textLength="20.3" lengthAdjust="spacingAndGlyphs" fill="#333">2.059</text>
<rect x="493.3" y="380" width="18.2" height="4.8" fill="#000"/>
<rect x="511.5" y="380.4" width="18" height="4" fill="#fff" stroke="#000" stroke-width="0.8"/>
<text x="494.7" y="377.8" text-anchor="middle" font-size="7" fill="#111">0</text>
<text x="511.8" y="377.8" text-anchor="middle" font-size="7" fill="#111">5</text>
<text x="526.6" y="377.8" text-anchor="middle" font-size="7" fill="#111">10</text>
<text x="531.6" y="385.3" font-size="8.8" textLength="10.8" lengthAdjust="spacingAndGlyphs" fill="#222">km</text>
</svg></body></html>
